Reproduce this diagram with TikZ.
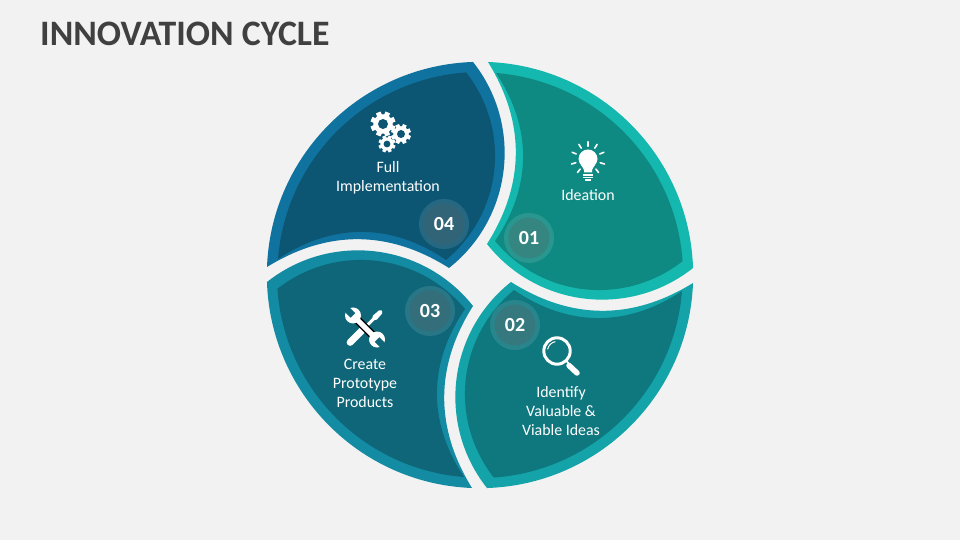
\documentclass[tikz,border=0pt]{standalone}
\usepackage{fontspec}
\setmainfont{Carlito}
\usepackage{tikz}
\usetikzlibrary{positioning}
\definecolor{pagegray}{HTML}{F2F2F2}
\definecolor{titlegray}{HTML}{404040}
\definecolor{ideaband}{HTML}{14B8AE}
\definecolor{ideafill}{HTML}{0F8A82}
\definecolor{identband}{HTML}{13A3A8}
\definecolor{identfill}{HTML}{0F777E}
\definecolor{protoband}{HTML}{128BA3}
\definecolor{protofill}{HTML}{0E6678}
\definecolor{fullband}{HTML}{10739F}
\definecolor{fullfill}{HTML}{0C5673}

\begin{document}
\begin{tikzpicture}[x=1pt, y=1pt,
    title/.style={anchor=west, inner sep=0pt, text=titlegray, font=\fontsize{35.8}{38}\selectfont\bfseries},
    caption/.style={text=white, align=center, inner sep=0pt, font=\fontsize{15.9}{19}\selectfont},
    ring/.style={circle, fill=white, fill opacity=0.11, minimum size=50pt, inner sep=0pt},
    badge/.style={circle, fill=black!65, fill opacity=0.25, text opacity=1, text=white, minimum size=41pt, inner sep=0pt, font=\fontsize{20}{22}\selectfont\bfseries},
    leafout/.pic={\path[pic actions] (8,213) arc[start angle=87.85, end angle=1.88, radius=213.15] to[bend left=45] (7,31) to[bend right=32] cycle;},
    leafin/.pic={\path[pic actions] (16,202) arc[start angle=85.5, end angle=4, radius=203] to[bend left=44] (15,34) to[bend right=34] cycle;},
    gear/.pic={
        \fill[white] (0,0) circle[radius=0.78];
        \foreach \a in {0,45,...,315} \fill[white, rotate=\a+22.5] (-0.2,0.6) rectangle (0.2,1);
        \path[pic actions] (0,0) circle[radius=0.4];},
    bulb/.pic={
        \fill[white] (-4,-13.4) -- (-4,-11) .. controls (-5,-8) and (-9.5,-4) .. (-9.5,0) arc[start angle=180, end angle=0, radius=9.5] .. controls (9.5,-4) and (5,-8) .. (4,-11) -- (4,-13.4) -- cycle;
        \fill[white] (-4.7,-15.2) rectangle (4.7,-16.7);
        \fill[white] (-4.7,-17.7) rectangle (4.7,-19.4);
        \fill[white] (-2.8,-20.2) rectangle (2.8,-21.7);
        \foreach \a in {90,58,23,-17,-52,122,157,197,232} \draw[white, line width=1.6pt, line cap=round] (\a:12.8) -- (\a:17.2);},
    tools/.pic={
        \begin{scope}[rotate=45]
            \draw[white, line width=7pt, line cap=round] (-21,0) -- (-4,0);
            \draw[white, line width=3pt] (-4,0) -- (14,0);
            \fill[white] (12,-1.5) -- (14,-2.8) -- (22,-2.2) -- (24,0) -- (22,2.2) -- (14,2.8) -- (12,1.5) -- cycle;
        \end{scope}
        \begin{scope}[rotate=135]
            \draw[pic actions, line width=8pt] (-14,0) -- (14,0);
            \draw[white, line width=5pt] (-16,0) -- (16,0);
            \fill[white] (17,0) circle[radius=8];
            \fill[white] (-17,0) circle[radius=8];
            \path[pic actions] (17,-3.2) rectangle (27,3.2);
            \path[pic actions] (-17,-3.2) rectangle (-27,3.2);
        \end{scope}}]

    \fill[pagegray] (0,0) rectangle (960,540);
    \node[title] (heading) at (40,506) {INNOVATION CYCLE};

    % outer bands and inner faces
    \pic[fill=ideaband] at (480,265) {leafout};
    \pic[fill=ideafill] at (480,265) {leafin};
    \pic[fill=identband, rotate=-90] at (480,265) {leafout};
    \pic[fill=identfill, rotate=-90] at (480,265) {leafin};
    \pic[fill=protoband, rotate=-180] at (480,265) {leafout};
    \pic[fill=protofill, rotate=-180] at (480,265) {leafin};
    \pic[fill=fullband, rotate=-270] at (480,265) {leafout};
    \pic[fill=fullfill, rotate=-270] at (480,265) {leafin};

    % number badges
    \node[ring] (ring1) at (529,302) {};
    \node[badge] (num1) at (529,302) {01};
    \node[ring] (ring2) at (515,215) {};
    \node[badge] (num2) at (515,215) {02};
    \node[ring] (ring3) at (430,229) {};
    \node[badge] (num3) at (430,229) {03};
    \node[ring] (ring4) at (444,316) {};
    \node[badge] (num4) at (444,316) {04};

    % captions
    \node[caption] (idea) at (588,344.5) {Ideation};
    \node[caption] (ident) at (561,128.5) {Identify\\Valuable \&\\Viable Ideas};
    \node[caption] (proto) at (365,156.5) {Create\\Prototype\\Products};
    \node[caption] (full) at (388,362) {Full\\Implementation};

    % icons
    \pic at (588,381) {bulb};
    \draw[white, line width=3pt] (557,189) circle[radius=13.2];
    \draw[white, line width=1.8pt] (566,179.5) -- (570,175);
    \draw[white, line width=5.5pt, line cap=round] (569,174.5) -- (577,167);
    \draw[white, line width=1pt] (557,189) ++(100:9.5) arc[start angle=100, end angle=170, radius=9.5];
    \pic[fill=protofill] at (365,212.5) {tools};
    \pic[fill=fullfill, scale=12.5] at (383,416) {gear};
    \pic[fill=fullfill, scale=10] at (401,406) {gear};
    \pic[fill=fullfill, scale=8.5] at (387,396) {gear};
\end{tikzpicture}
\end{document}
